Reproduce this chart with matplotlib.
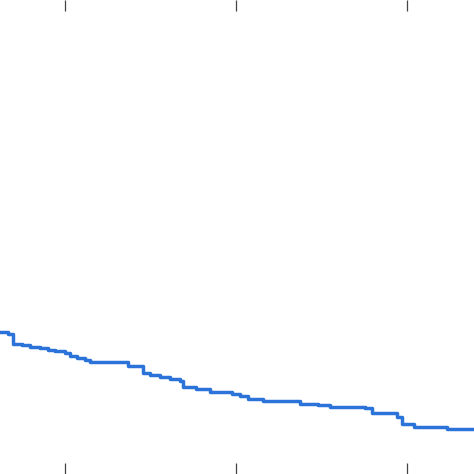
import matplotlib
matplotlib.use("Agg")
import matplotlib.pyplot as plt

# step curve (time, survival)
times = [12.40, 13.33, 13.92, 14.97, 15.91, 17.08, 18.01, 18.83, 20.00, 20.58,
         21.40, 22.34, 22.92, 27.37, 29.12, 29.94, 31.11, 32.28, 33.45, 33.80,
         35.32, 36.96, 39.53, 40.47, 41.40, 43.16, 47.49, 49.59, 50.99, 52.75,
         55.09, 55.91, 58.83, 59.42, 60.82, 64.68, 67.84]
surv = [0.3006, 0.2954, 0.2743, 0.2711, 0.2679, 0.2658, 0.2616, 0.2595, 0.2553, 0.2500,
        0.2437, 0.2405, 0.2363, 0.2268, 0.2131, 0.2089, 0.2046, 0.2004, 0.1962, 0.1835,
        0.1793, 0.1730, 0.1688, 0.1646, 0.1582, 0.1530, 0.1487, 0.1456, 0.1424, 0.1414,
        0.1382, 0.1297, 0.1203, 0.1065, 0.0985, 0.0949, 0.0949]
xticks = [20, 40, 60]

fig = plt.figure(figsize=(4.74, 4.74), dpi=100)
ax = fig.add_axes([0, 0, 1, 1])
ax.step(times, surv, where="post", color="#2b73d9", lw=2.5)

ax.set_xlim(12.40, 67.84)
ax.set_ylim(0, 1)
ax.set_xticks(xticks)
ax.set_yticks([])
ax.tick_params(axis="x", direction="in", top=True, bottom=True, length=8,
               width=0.9, color="#444444", labelbottom=False, labeltop=False)
for s in ax.spines.values():
    s.set_visible(False)

fig.savefig("out.png", dpi=100)
